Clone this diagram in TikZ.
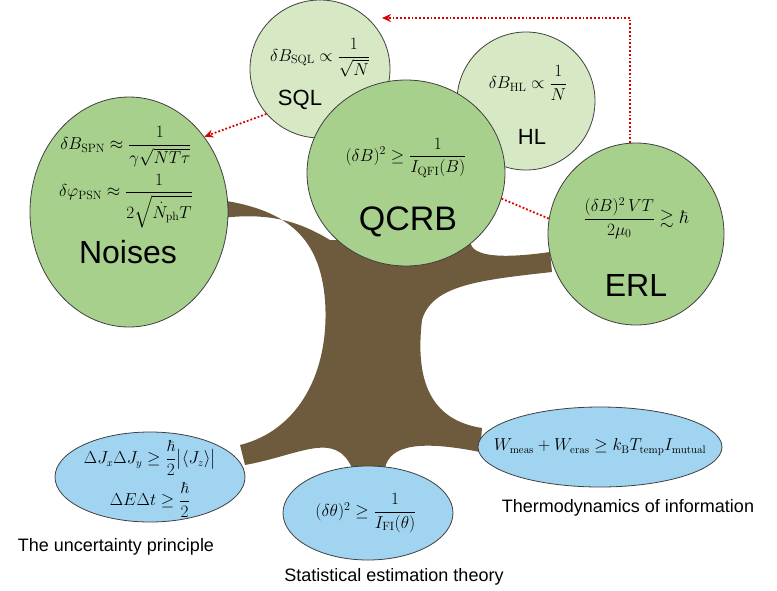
\documentclass[tikz,border=0pt]{standalone}
\usepackage{amsmath,amssymb}
\usepackage[no-math]{fontspec}
\setmainfont{Liberation Sans}
\usetikzlibrary{shapes.geometric,arrows.meta}
\begin{document}
\begin{tikzpicture}[x=1pt,y=-1pt,
  bub/.style={ellipse,draw=black!75,line width=0.8pt,inner sep=0pt},
  dkg/.style={bub,fill=gdark},
  ltg/.style={bub,fill=glight},
  blu/.style={bub,fill=bblue},
  red/.style={draw=red!85!black,line width=1.8pt,dotted},
  arr/.style={-{Stealth[length=9pt,width=8pt]}},
  lab/.style={font=\fontsize{18}{20}\selectfont},
  mth/.style={font=\fontsize{18}{22}\selectfont,align=center}]
\definecolor{trunk}{RGB}{110,90,60}
\definecolor{gdark}{RGB}{168,208,141}
\definecolor{glight}{RGB}{214,232,196}
\definecolor{bblue}{RGB}{160,212,240}
\useasboundingbox (0,0) rectangle (777,590);
% trunk
\fill[trunk] (220,200) .. controls (290,210) and (320,240) .. (325,300)
 .. controls (330,370) and (300,430) .. (240,445) -- (245,465)
 .. controls (300,455) and (335,430) .. (352,468) -- (385,468)
 .. controls (390,445) and (420,440) .. (480,452) -- (482,428)
 .. controls (430,420) and (415,380) .. (422,320)
 .. controls (432,285) and (480,280) .. (552,272) -- (550,252)
 .. controls (480,262) and (470,250) .. (470,240) -- (330,240)
 .. controls (300,222) and (270,212) .. (222,218) -- cycle;
% upper bubbles
\node[ltg,minimum width=140,minimum height=138] (sql) at (320,69) {};
\node[ltg,minimum width=138,minimum height=138] (hl) at (526,101) {};
\node[dkg,minimum width=198,minimum height=186] (qcrb) at (406,173) {};
\node[dkg,minimum width=198,minimum height=230] (noi) at (129,212) {};
\node[dkg,minimum width=176,minimum height=182] (erl) at (636,234) {};
% bottom bubbles
\node[blu,minimum width=190,minimum height=90] (unc) at (150,477) {};
\node[blu,minimum width=170,minimum height=94] (stat) at (368,513) {};
\node[blu,minimum width=244,minimum height=80] (thm) at (600,447) {};
% texts
\node[mth] (sqlf) at (320,58) {$\delta B_{\mathrm{SQL}}\propto\dfrac{1}{\sqrt{N}}$};
\node[font=\fontsize{22}{24}\selectfont] (sqlt) at (300,100) {SQL};
\node[mth] (hlf) at (528,83) {$\delta B_{\mathrm{HL}}\propto\dfrac{1}{N}$};
\node[font=\fontsize{22}{24}\selectfont] (hlt) at (532,137) {HL};
\node[mth] (qf) at (406,158) {$(\delta B)^2\geq\dfrac{1}{I_{\mathrm{QFI}}(B)}$};
\node[font=\fontsize{34}{36}\selectfont] (qt) at (408,222) {QCRB};
\node[mth] (nf1) at (126,147) {$\delta B_{\mathrm{SPN}}\approx\dfrac{1}{\gamma\sqrt{NT\tau}}$};
\node[mth] (nf2) at (126,201) {$\delta\varphi_{\mathrm{PSN}}\approx\dfrac{1}{2\sqrt{\dot N_{\mathrm{ph}}T}}$};
\node[font=\fontsize{32}{34}\selectfont] (nt) at (128,252) {Noises};
\node[mth] (ef) at (636,218) {$\dfrac{(\delta B)^2\,VT}{2\mu_0}\gtrsim\hbar$};
\node[font=\fontsize{32}{34}\selectfont] (et) at (636,285) {ERL};
\node[mth,font=\fontsize{16}{19}\selectfont] (uf1) at (150,458) {$\Delta J_x\Delta J_y\geq\dfrac{\hbar}{2}\bigl|\langle J_z\rangle\bigr|$};
\node[mth,font=\fontsize{16}{19}\selectfont] (uf2) at (150,500) {$\Delta E\Delta t\geq\dfrac{\hbar}{2}$};
\node[mth] (sf) at (366,513) {$(\delta\theta)^2\geq\dfrac{1}{I_{\mathrm{FI}}(\theta)}$};
\node[mth,font=\fontsize{16}{19}\selectfont] (tf) at (600,447) {$W_{\mathrm{meas}}+W_{\mathrm{eras}}\geq k_{\mathrm{B}}T_{\mathrm{temp}}I_{\mathrm{mutual}}$};
\node[lab] (ul) at (116,547) {The uncertainty principle};
\node[lab] (sl) at (394,577) {Statistical estimation theory};
\node[lab] (tl) at (628,508) {Thermodynamics of information};
% red dotted connectors
\coordinate (c0) at (630,143);
\coordinate (c1) at (630,18);
\coordinate (c2) at (382,18);
\draw[red] (c0) -- (c1);
\draw[red,arr] (c1) -- (c2);
\draw[red,arr] (sql.220) -- (noi.45);
\draw[red] (qcrb.-15) -- (erl.170);
\end{tikzpicture}
\end{document}
